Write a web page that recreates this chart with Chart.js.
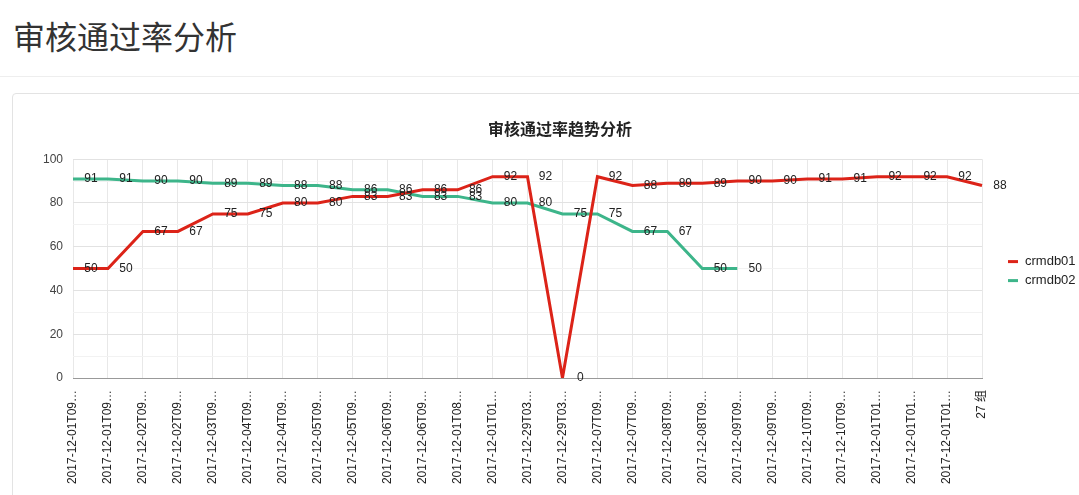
<!DOCTYPE html>
<html><head><meta charset="utf-8">
<script src="https://cdn.jsdelivr.net/npm/chart.js@4.4.1/dist/chart.umd.min.js"></script>
<style>
html,body{margin:0;padding:0;background:#fff;overflow:hidden;width:1079px;height:495px;}
#h{position:absolute;left:13px;top:19px;font:32px/1 "Noto Sans CJK SC",sans-serif;color:#333;margin:0;font-weight:400;}
#hr{position:absolute;left:0;top:76px;width:1079px;height:1px;background:#eee;}
#panel{position:absolute;left:12px;top:93px;width:1100px;height:460px;border:1px solid #e3e3e3;border-radius:4px;box-sizing:border-box;}
#wrap{position:absolute;left:13px;top:94px;width:1094px;height:401px;}
</style></head>
<body>
<h1 id="h">审核通过率分析</h1>
<div id="hr"></div>
<div id="panel"></div>
<div id="wrap"><canvas id="c"></canvas></div>
<script>
const categories = ["2017-12-01T09…","2017-12-01T09…","2017-12-02T09…","2017-12-02T09…","2017-12-03T09…","2017-12-04T09…","2017-12-04T09…","2017-12-05T09…","2017-12-05T09…","2017-12-06T09…","2017-12-06T09…","2017-12-01T08…","2017-12-01T01…","2017-12-29T03…","2017-12-29T03…","2017-12-07T09…","2017-12-07T09…","2017-12-08T09…","2017-12-08T09…","2017-12-09T09…","2017-12-09T09…","2017-12-10T09…","2017-12-10T09…","2017-12-01T01…","2017-12-01T01…","2017-12-01T01…","27 组"];
const crmdb01 = [50,50,67,67,75,75,80,80,83,83,86,86,92,92,0,92,88,89,89,90,90,91,91,92,92,92,88];
const crmdb02 = [91,91,90,90,89,89,88,88,86,86,83,83,80,80,75,75,67,67,50,50,null,null,null,null,null,null,null];
const seriesNames = ["crmdb01","crmdb02"];
const seriesColors = ["#dc2318","#3db58a"];
const chartTitle = "审核通过率趋势分析";

const valueLabels = {
  id:'valueLabels',
  afterDatasetsDraw(chart){
    const ctx = chart.ctx;
    ctx.save();
    ctx.font = '12px Arial, "Liberation Sans", sans-serif';
    ctx.fillStyle = '#222';
    ctx.textAlign = 'center';
    ctx.textBaseline = 'middle';
    chart.data.datasets.forEach((ds,di)=>{
      const meta = chart.getDatasetMeta(di);
      meta.data.forEach((pt,i)=>{
        const v = ds.data[i];
        if (v === null || v === undefined) return;
        ctx.fillText(String(v), pt.x + 18, pt.y);
      });
    });
    ctx.restore();
  }
};

const sideLegend = {
  id:'sideLegend',
  afterDraw(chart){
    const ctx = chart.ctx, a = chart.chartArea;
    ctx.save();
    ctx.font = '13px Arial, "Liberation Sans", sans-serif';
    ctx.textBaseline = 'middle';
    ctx.textAlign = 'left';
    const y0 = (a.top + a.bottom)/2 - 7;
    chart.data.datasets.forEach((ds,i)=>{
      const y = y0 + i*19;
      const x = a.right + 26;
      ctx.fillStyle = ds.borderColor;
      ctx.fillRect(x, y-1.5, 10, 3);
      ctx.fillStyle = '#222';
      ctx.fillText(ds.label, x + 17, y);
    });
    ctx.restore();
  }
};

new Chart(document.getElementById('c'), {
  type:'line',
  data:{
    labels: categories,
    datasets:[
      {label:seriesNames[0], data:crmdb01, borderColor:seriesColors[0], backgroundColor:seriesColors[0], borderWidth:3, pointRadius:0, tension:0, fill:false},
      {label:seriesNames[1], data:crmdb02, borderColor:seriesColors[1], backgroundColor:seriesColors[1], borderWidth:3, pointRadius:0, tension:0, fill:false}
    ]
  },
  options:{
    responsive:true, maintainAspectRatio:false, animation:false,
    layout:{padding:0},
    plugins:{
      legend:{display:false},
      tooltip:{enabled:false},
      title:{display:true, text:chartTitle, color:'#222',
        font:{family:'"Noto Sans CJK SC", sans-serif', size:16, weight:'bold'},
        padding:{top:25,bottom:21}}
    },
    scales:{
      x:{
        grid:{color:'#e8e8e8', drawTicks:false},
        border:{color:'#999', width:1},
        ticks:{autoSkip:false, minRotation:90, maxRotation:90, padding:12, color:'#222',
          font:{size:12, family:'Arial, "Liberation Sans", "Noto Sans CJK SC", sans-serif'}},
        afterFit(s){ s.height = 117; }
      },
      y:{
        min:0, max:100,
        grid:{color:(c)=> (c.tick && c.tick.value % 20 === 0) ? '#e2e2e2' : '#f2f2f2', drawTicks:false},
        border:{display:false},
        ticks:{stepSize:10, padding:10, color:'#444',
          font:{size:12, family:'Arial, "Liberation Sans", sans-serif'},
          callback:(v)=> v % 20 === 0 ? String(v) : ''},
        afterFit(s){ s.width = 60; }
      },
      legendSpace:{
        type:'linear', position:'right', display:true,
        grid:{display:false, drawTicks:false},
        border:{display:false},
        ticks:{display:false},
        afterFit(s){ s.width = 125; }
      }
    }
  },
  plugins:[valueLabels, sideLegend]
});
</script>
</body></html>
